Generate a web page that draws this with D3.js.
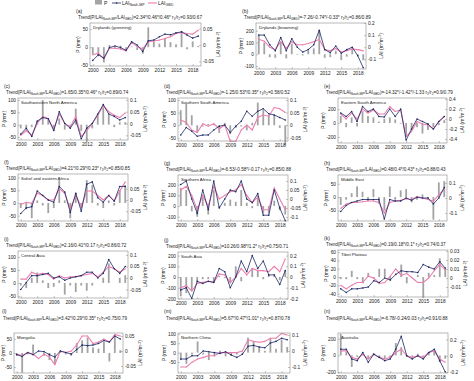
<!DOCTYPE html>
<html><head><meta charset="utf-8">
<script src="https://cdn.jsdelivr.net/npm/d3@7"></script>
<style>body{margin:0;background:#fff}svg{display:block}text{font-family:"Liberation Sans",Arial,sans-serif}</style>
</head><body><svg id="c" width="474" height="381"></svg>
<script>
const years = d3.range(2000, 2020);
const xTicks = [2000,2003,2006,2009,2012,2015,2018];
const letters = ["a","b","c","d","e","f","g","h","i","j","k","l","m","n"];
const regions = ["Drylands (greening)","Drylands (browning)","Southwestern North America","Southern South America","Eastern South America","Sahel and eastern Africa","Southern Africa","Middle East","Central Asia","South Asia","Tibet Plateau","Mongolia","Northern China","Australia"];
const trends = ["2.34*/0.46*/0.46*","-7.26/-0.74*/-0.33*","1.65/0.35*/0.46*","-1.25/0.53*/0.35*","-14.32*/-1.42*/-1.33","4.21*/0.29*/0.23*","-6.53/-0.58*/-0.17","0.48/0.4*/0.43*","2.16/0.41*/0.17","10.26/0.98*/1.2*","0.19/0.18*/0.1*","3.42*/0.29*/0.35*","5.67*/0.47*/1.01*","-6.78/-0.24/0.03"];
const rvals = ["0.93/0.67","0.86/0.89","0.89/0.74","0.58/0.52","0.9/0.79","0.85/0.85","0.85/0.88","0.88/0.43","0.86/0.72","0.75/0.71","0.74/0.37","0.75/0.79","0.87/0.78","0.91/0.88"];

const pA = [-20,-25,-42,6,-4,4,-6,2,-8,-18,55,16,10,25,14,8,45,-6,16,3];
const noahA = [-0.047,-0.03,-0.04,-0.008,-0.003,-0.008,-0.016,0.01,0.0,-0.02,0.013,0.015,0.025,0.033,0.031,0.037,0.04,0.03,0.021,0.027];
const gbdA = [-0.03,-0.025,-0.042,-0.01,-0.01,-0.012,-0.018,0.008,-0.005,-0.012,0.01,0.012,0.015,0.02,0.025,0.035,0.038,0.035,0.033,0.045];

const pB = [160,100,-25,-30,100,-35,90,-5,-10,30,50,200,-30,-25,30,-50,-20,60,-10,-50];
const noahB = [0.1,0.1,0.02,-0.03,0.08,-0.03,0.07,0.0,-0.04,-0.02,0.02,0.14,-0.02,-0.045,0.01,-0.05,-0.02,0.0,-0.07,-0.17];
const gbdB = [0.065,0.05,0.0,-0.02,0.045,-0.01,0.045,0.02,0.02,0.03,0.045,0.065,-0.02,-0.03,-0.01,-0.04,-0.03,-0.015,-0.02,-0.03];

const pC = [-15,-20,-10,15,100,20,-20,25,-20,-10,65,-25,-70,-15,40,70,40,-10,10,10];
const noahC = [-0.045,-0.02,-0.055,0.01,0.025,0.02,-0.03,0.05,0.0,-0.02,0.015,-0.065,-0.02,0.0,0.04,0.08,0.04,0.03,0.015,0.025];
const gbdC = [-0.05,-0.03,-0.05,0.0,0.03,0.02,-0.025,0.04,0.0,-0.015,0.03,-0.055,-0.03,0.0,0.035,0.075,0.05,0.035,0.025,0.045];

const pD = [60,85,40,-30,-5,5,5,-30,10,-35,-10,-5,-20,10,90,60,40,40,-10,-80];
const noahD = [-0.04,-0.01,-0.025,-0.045,-0.04,-0.04,-0.02,-0.005,0.0,-0.03,-0.005,0.015,0.055,0.035,0.055,0.065,0.045,0.04,0.03,0.02];
const gbdD = [0.02,0.01,-0.02,-0.03,0.005,-0.005,0.005,-0.015,0.0,-0.065,-0.065,-0.02,0.0,-0.02,0.03,0.04,0.035,0.07,0.065,0.05];

const pE = [100,-60,80,-50,170,100,80,20,60,80,50,-10,-200,-100,-60,-150,-100,-60,-30,40];
const noahE = [0.12,0.05,0.15,-0.05,0.25,0.15,0.2,0.05,0.04,0.2,0.05,0.2,-0.42,-0.2,0.0,-0.05,-0.1,-0.2,-0.05,0.05];
const gbdE = [0.1,0.0,0.12,0.0,0.2,0.12,0.18,0.1,0.1,0.25,0.15,0.18,-0.35,-0.25,-0.05,-0.1,-0.12,-0.2,-0.05,0.05];

const pF = [-20,-25,-60,10,-10,-40,-20,90,10,-60,40,-20,90,70,-10,-20,10,-10,50,70];
const noahF = [-0.06,-0.035,-0.03,0.04,0.02,0.0,-0.01,0.06,0.035,-0.055,0.03,-0.05,0.07,0.08,0.01,-0.01,0.02,-0.005,0.06,0.06];
const gbdF = [-0.02,-0.01,-0.015,0.03,0.02,0.0,0.0,0.05,0.03,-0.04,0.02,-0.03,0.04,0.04,0.02,0.0,0.02,-0.005,0.04,0.08];

const pG = [170,150,-50,-100,80,-80,150,-20,30,60,40,150,30,-20,100,-70,-70,50,-40,-80];
const noahG = [0.08,0.1,0.0,-0.08,0.05,-0.06,0.1,-0.05,0.0,0.05,0.04,0.1,0.0,-0.02,0.03,-0.09,-0.09,0.05,-0.05,-0.12];
const gbdG = [0.05,0.07,0.02,-0.06,0.02,-0.04,0.07,0.0,0.02,0.04,0.05,0.08,0.02,-0.02,0.01,-0.06,-0.06,0.06,0.0,-0.06];

const pH = [-30,-10,15,40,20,-15,30,-25,-50,40,-10,25,30,-20,-10,10,-5,-85,55,60];
const noahH = [-0.09,-0.05,-0.03,-0.02,-0.01,-0.01,-0.01,-0.01,-0.14,-0.01,-0.02,-0.02,0.0,-0.015,0.005,0.0,0.0,-0.04,0.0,0.07];
const gbdH = [-0.07,-0.04,-0.03,-0.03,-0.025,-0.02,-0.02,-0.03,-0.1,-0.03,-0.02,-0.015,-0.005,-0.01,0.01,0.0,-0.01,-0.02,0.02,0.06];

const pI = [-10,-20,20,40,10,-20,-15,10,-45,-10,-35,-10,-30,-10,0,20,75,0,20,30];
const noahI = [-0.05,-0.02,0.01,0.01,0.015,0.02,0.0,0.005,-0.01,0.0,0.005,0.01,0.025,0.025,0.0,0.02,0.08,0.04,0.02,0.05];
const gbdI = [-0.005,-0.005,0.025,0.015,0.02,0.015,-0.005,0.01,0.0,0.005,0.005,0.01,0.015,0.02,0.005,0.025,0.05,0.04,0.025,0.04];

const pJ = [-180,-150,-130,-50,-20,-20,-50,10,-10,-60,100,-40,0,80,60,-20,20,10,-30,60];
const noahJ = [-0.12,-0.1,-0.2,-0.04,-0.06,-0.04,-0.05,0.08,0.05,-0.1,0.0,0.15,0.05,0.2,0.08,0.15,0.02,0.02,-0.07,0.06];
const gbdJ = [-0.1,-0.08,-0.13,-0.06,-0.05,-0.04,-0.05,0.03,0.02,-0.05,0.0,0.08,0.02,0.08,0.06,0.06,0.05,0.1,0.05,0.17];

const pK = [-5,-5,15,-5,-15,10,-5,20,20,-10,0,30,-15,0,5,-50,10,5,45,20];
const noahK = [-0.012,-0.016,-0.012,-0.012,-0.011,-0.01,-0.003,-0.005,0.0,-0.002,0.004,0.008,0.007,0.007,0.006,0.015,0.012,0.01,0.018,0.011];
const gbdK = [-0.008,-0.012,-0.008,-0.005,-0.005,0.002,0.0,-0.006,-0.005,0.002,0.01,0.003,0.005,0.0,-0.005,-0.005,0.0,0.008,0.015,0.009];

const pL = [-10,-70,-5,30,0,-10,-25,-40,5,-5,-10,35,45,55,20,15,40,-30,60,10];
const noahL = [-0.012,-0.018,-0.005,-0.012,0.0,-0.002,-0.012,-0.02,0.0,-0.005,-0.01,0.005,0.02,0.018,0.02,0.025,0.035,0.03,0.05,0.04];
const gbdL = [-0.01,-0.015,-0.005,-0.01,-0.025,-0.01,-0.02,-0.045,0.0,-0.005,0.0,0.02,0.05,0.05,0.025,0.03,0.04,0.03,0.055,0.05];

const pM = [-40,-60,-10,60,-10,-40,-20,10,-20,-15,-10,-5,80,60,30,10,75,20,70,30];
const noahM = [-0.05,-0.05,-0.03,-0.03,0.0,-0.005,-0.01,-0.015,-0.005,-0.025,-0.04,-0.02,0.03,0.035,0.025,0.02,0.05,0.06,0.08,0.07];
const gbdM = [-0.1,-0.1,-0.07,-0.05,-0.04,-0.03,-0.03,-0.01,-0.01,-0.01,-0.01,0.0,0.07,0.06,0.055,0.06,0.08,0.08,0.11,0.1];

const pN = [260,40,-140,-20,20,-40,20,-30,-40,-20,150,100,-20,-40,20,-40,40,60,-80,-40];
const noahN = [0.08,0.08,-0.04,-0.06,0.04,-0.08,0.02,-0.02,-0.06,-0.04,0.08,0.24,0.0,-0.04,0.0,-0.04,0.04,0.08,-0.06,-0.2];
const gbdN = [0.06,0.06,-0.02,-0.04,0.02,-0.04,0.02,-0.02,-0.04,-0.02,0.04,0.08,0.0,-0.02,0.0,-0.02,0.04,0.06,-0.04,-0.08];

const panels = [
 {f:[90,201,23,66],  pd:[-52,67],   ld:[-0.064,0.067], pt:[-50,0,50], lt:[-0.05,0,0.05], p:pA, n:noahA, g:gbdA},
 {f:[256,366,23,69], pd:[-125,265], ld:[-0.18,0.2],    pt:[-100,0,100,200], lt:[-0.1,0,0.1,0.2], p:pB, n:noahB, g:gbdB},
 {f:[18,128,98,140], pd:[-62,108],  ld:[-0.07,0.108],  pt:[-50,0,50,100], lt:[-0.05,0,0.05,0.1], p:pC, n:noahC, g:gbdC},
 {f:[178,288,98,141],pd:[-62,108],  ld:[-0.064,0.108], pt:[-50,0,50,100], lt:[-0.05,0,0.05,0.1], p:pD, n:noahD, g:gbdD},
 {f:[338,447,98,143],pd:[-286,357], ld:[-0.48,0.42],   pt:[-200,0,200], lt:[-0.4,-0.2,0,0.2,0.4], p:pE, n:noahE, g:gbdE},
 {f:[18,128,174,221],pd:[-71,114],  ld:[-0.093,0.115], pt:[-50,0,50,100], lt:[-0.05,0,0.05], p:pF, n:noahF, g:gbdF},
 {f:[178,288,175,221],pd:[-140,290],ld:[-0.122,0.133], pt:[-100,0,100,200], lt:[-0.1,-0.05,0,0.05,0.1], p:pG, n:noahG, g:gbdG},
 {f:[338,447,175,221],pd:[-90,83],  ld:[-0.153,0.153], pt:[-50,0,50], lt:[-0.1,0,0.1], p:pH, n:noahH, g:gbdH},
 {f:[18,128,251,298],pd:[-58,123],  ld:[-0.087,0.117], pt:[-50,0,50,100], lt:[-0.05,0,0.05,0.1], p:pI, n:noahI, g:gbdI},
 {f:[178,288,252,299],pd:[-205,234],ld:[-0.205,0.234], pt:[-200,-100,0,100,200], lt:[-0.2,-0.1,0,0.1,0.2], p:pJ, n:noahJ, g:gbdJ},
 {f:[338,448,250,297],pd:[-48,65],  ld:[-0.021,0.031], pt:[-40,-20,0,20,40,60], lt:[-0.01,0,0.01,0.02,0.03], p:pK, n:noahK, g:gbdK},
 {f:[14,123,333,373],pd:[-71,71],   ld:[-0.073,0.06],  pt:[-50,0,50], lt:[-0.05,0,0.05], p:pL, n:noahL, g:gbdL},
 {f:[178,290,333,373],pd:[-109,105],ld:[-0.1375,0.1125],pt:[-50,0,50,100], lt:[-0.1,0,0.1], p:pM, n:noahM, g:gbdM},
 {f:[338,448,333,373],pd:[-212,270],ld:[-0.212,0.28],  pt:[-200,0,200], lt:[-0.2,0,0.2], p:pN, n:noahN, g:gbdN}
];

const NAVY = "#1c2766", PINK = "#ec7fae", BAR = "#a3a3a3", FRAME = "#8a8a8a", TXT = "#222";
const svg = d3.select("#c");

function sub(t, s, dy){ t.append("tspan").attr("dy", dy).attr("font-size", "72%").text(s); }

function style(g){
  g.select(".domain").remove();
  g.selectAll("line").attr("stroke", FRAME).attr("stroke-width", 0.5);
  g.selectAll("text").attr("font-size", 4.8).attr("fill", TXT);
}

panels.forEach((P, i) => {
  const [x0, x1, y0, y1] = P.f;
  const x = d3.scaleLinear().domain([1999.5, 2019.5]).range([x0, x1]);
  const yP = d3.scaleLinear().domain(P.pd).range([y1, y0]);
  const yL = d3.scaleLinear().domain(P.ld).range([y1, y0]);
  const g = svg.append("g");

  g.selectAll("rect.bar").data(years.map((yr, k) => ({yr, v: P.p[k]}))).join("rect")
    .attr("x", d => x(d.yr) - 0.9).attr("width", 1.8)
    .attr("y", d => Math.min(yP(d.v), yP(0))).attr("height", d => Math.abs(yP(d.v) - yP(0)))
    .attr("fill", BAR);

  const line = d3.line().x(d => x(d[0])).y(d => yL(d[1]));
  const gb = years.map((yr, k) => [yr, P.g[k]]);
  const nm = years.map((yr, k) => [yr, P.n[k]]);
  g.append("path").attr("d", line(gb)).attr("fill", "none").attr("stroke", PINK).attr("stroke-width", 1.1);
  g.selectAll("circle.gb").data(gb).join("circle").attr("cx", d => x(d[0])).attr("cy", d => yL(d[1])).attr("r", 0.6).attr("fill", PINK);
  g.append("path").attr("d", line(nm)).attr("fill", "none").attr("stroke", NAVY).attr("stroke-width", 0.8);
  g.selectAll("circle.nm").data(nm).join("circle").attr("cx", d => x(d[0])).attr("cy", d => yL(d[1])).attr("r", 0.8).attr("fill", NAVY);

  g.append("rect").attr("x", x0).attr("y", y0).attr("width", x1 - x0).attr("height", y1 - y0)
    .attr("fill", "none").attr("stroke", FRAME).attr("stroke-width", 0.6);

  const fmt = d => String(d);
  const ax = g.append("g").attr("transform", `translate(0,${y1})`)
    .call(d3.axisBottom(x).tickValues(xTicks).tickFormat(d3.format("d")).tickSize(-2).tickPadding(2.5));
  style(ax);
  const axL = g.append("g").attr("transform", `translate(${x0},0)`)
    .call(d3.axisLeft(yP).tickValues(P.pt).tickFormat(fmt).tickSize(-2).tickPadding(2));
  style(axL);
  const axR = g.append("g").attr("transform", `translate(${x1},0)`)
    .call(d3.axisRight(yL).tickValues(P.lt).tickFormat(fmt).tickSize(-2).tickPadding(2));
  style(axR);

  const cy = (y0 + y1) / 2;
  const bl = axL.node().getBBox();
  g.append("text").attr("transform", `translate(${Math.max(5, x0 + bl.x - 1.5)},${cy}) rotate(-90)`)
    .attr("text-anchor", "middle").attr("font-size", 5).attr("fill", TXT).text("P (mm)");
  const br = axR.node().getBBox();
  const lt = g.append("text").attr("transform", `translate(${x1 + br.x + br.width + 6},${cy}) rotate(-90)`)
    .attr("text-anchor", "middle").attr("font-size", 5).attr("fill", TXT);
  lt.append("tspan").text("LAI (m");
  lt.append("tspan").attr("dy", -1.5).attr("font-size", "70%").text("2");
  lt.append("tspan").attr("dy", 1.5).text("m");
  lt.append("tspan").attr("dy", -1.5).attr("font-size", "70%").text("-2");
  lt.append("tspan").attr("dy", 1.5).text(")");

  g.append("text").attr("x", x0 + 3).attr("y", y0 + 5.5).attr("font-size", 4.4).attr("fill", TXT).text(regions[i]);

  g.append("text").attr("x", Math.max(2, x0 - 14)).attr("y", y0 - (i >= 11 ? 20 : 10)).attr("font-size", 5).attr("fill", TXT).text(`(${letters[i]})`);

  const t = g.append("text").attr("x", Math.max(3, x0 - 12)).attr("y", y0 - (i >= 11 ? 13 : 4)).attr("font-size", 4.6).attr("fill", TXT);
  t.append("tspan").text("Trend(P/LAI");
  sub(t, "Noah-MP", 1.2);
  t.append("tspan").attr("dy", -1.2).text("/LAI");
  sub(t, "GBD", 1.2);
  t.append("tspan").attr("dy", -1.2).text(")=" + trends[i] + "  r");
  sub(t, "1", 1.2);
  t.append("tspan").attr("dy", -1.2).text("/r");
  sub(t, "2", 1.2);
  t.append("tspan").attr("dy", -1.2).text("=" + rvals[i]);
});

const lg = svg.append("g");
lg.append("rect").attr("x", 95).attr("y", 0).attr("width", 7).attr("height", 4.5).attr("fill", BAR);
lg.append("text").attr("x", 104).attr("y", 4.5).attr("font-size", 5).attr("fill", TXT).text("P");
lg.append("line").attr("x1", 112).attr("x2", 121).attr("y1", 3).attr("y2", 3).attr("stroke", NAVY).attr("stroke-width", 0.8);
lg.append("circle").attr("cx", 116.5).attr("cy", 3).attr("r", 0.8).attr("fill", NAVY);
const l1 = lg.append("text").attr("x", 122).attr("y", 4.5).attr("font-size", 5).attr("fill", TXT);
l1.append("tspan").text("LAI"); l1.append("tspan").attr("dy", 1.3).attr("font-size", "72%").text("Noah-MP");
lg.append("line").attr("x1", 148).attr("x2", 157).attr("y1", 3).attr("y2", 3).attr("stroke", PINK).attr("stroke-width", 1.1);
const l2 = lg.append("text").attr("x", 158).attr("y", 4.5).attr("font-size", 5).attr("fill", TXT);
l2.append("tspan").text("LAI"); l2.append("tspan").attr("dy", 1.3).attr("font-size", "72%").text("GBD");
</script></body></html>
